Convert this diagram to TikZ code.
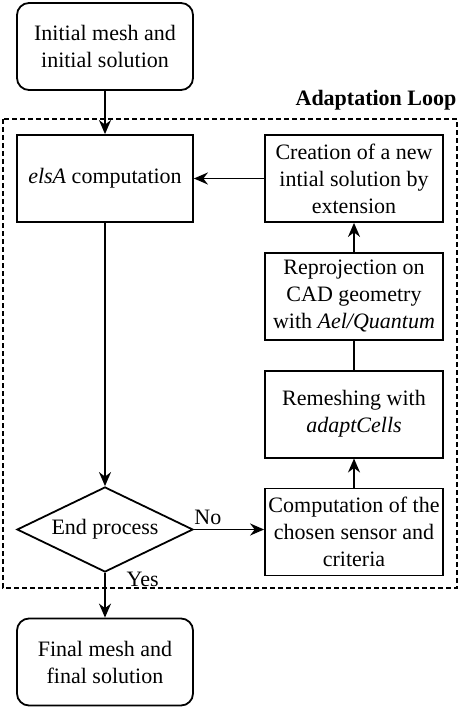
\documentclass[tikz,border=0pt]{standalone}
\usepackage{fontspec}
\setmainfont{Liberation Serif}
\usepackage{tikz}
\usetikzlibrary{positioning, shapes.geometric, arrows.meta}
\tikzset{
    stepbox/.style={
        shape=rectangle,
        draw=black,
        line width=0.9pt,
        align=center,
        minimum width=88pt,
        minimum height=43.5pt,
        inner sep=1pt
    },
    termbox/.style={
        stepbox,
        rounded corners=6pt
    },
    decision/.style={
        shape=diamond,
        draw=black,
        line width=0.9pt,
        inner sep=0pt,
        aspect=2.07,
        minimum width=88pt,
        minimum height=42.5pt
    },
    flow/.style={
        line width=0.9pt,
        -{Stealth[length=7pt,width=6pt]}
    },
    link/.style={
        line width=0.9pt
    }
}

\begin{document}
\begin{tikzpicture}[x=0.5pt, y=-0.5pt, node distance=14.5pt, every node/.style={font=\fontsize{11}{13.5}\selectfont}]

\useasboundingbox (0,0) rectangle (474,711);

% Loop frame
\draw[line width=1pt, dash pattern=on 2.5pt off 1.5pt] (3,119) rectangle (457,588);
\node[font=\fontsize{11}{13.5}\selectfont\bfseries] (loop_title) at (376,100) {Adaptation Loop};

% Left column
\node[termbox] (init) at (105,46.5) {Initial mesh and\\initial solution};
\node[stepbox] (elsa) at (105,178.5) {\textit{elsA} computation};
\node[decision] (endproc) at (105,529.5) {End process};
\node[termbox] (final) at (105,662) {Final mesh and\\final solution};

% Right column
\node[stepbox, minimum width=89pt] (extend) at (354,178.5) {Creation of a new\\intial solution by\\extension};
\node[stepbox, minimum width=89pt, below=of extend] (reproj) {Reprojection on\\CAD geometry\\with \textit{Ael/Quantum}};
\node[stepbox, minimum width=89pt, below=of reproj] (remesh) {Remeshing with\\\textit{adaptCells}};
\node[stepbox, minimum width=89pt, below=of remesh] (sensor) {Computation of the\\chosen sensor and\\criteria};

% Connectors
\draw[flow] (init) -- (elsa);
\draw[flow] (elsa) -- (endproc);
\draw[flow] (endproc.east) -- node[above, pos=0.2, inner sep=2pt] (no_lbl) {No} (endproc.east -| sensor.west);
\draw[flow] (endproc.south) -- node[right=7pt, pos=0.15] (yes_lbl) {Yes} (final);
\draw[flow] (sensor) -- (remesh);
\draw[link] (remesh) -- (reproj);
\draw[flow] (reproj) -- (extend);
\draw[flow] (extend) -- (elsa);

\end{tikzpicture}
\end{document}
